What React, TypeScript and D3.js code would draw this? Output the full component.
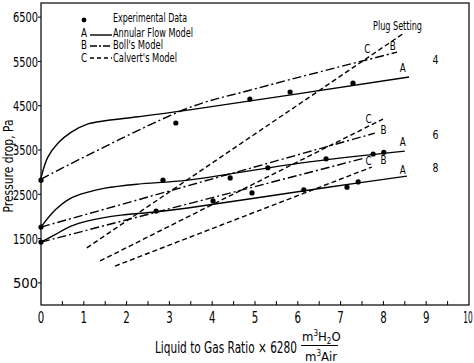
import React from 'react';
import * as d3 from 'd3';

// experimental points, per plug setting
const exp4X = [0, 3.15, 4.88, 5.82, 7.29];
const exp4P = [2820, 4110, 4650, 4810, 5010];
const exp6X = [0, 2.85, 4.42, 5.3, 6.66, 7.76, 8.01];
const exp6P = [1760, 2820, 2870, 3100, 3300, 3410, 3450];
const exp8X = [0, 2.69, 4.02, 4.93, 6.14, 7.15, 7.41];
const exp8P = [1420, 2120, 2350, 2530, 2600, 2660, 2780];

// A: annular flow model
const a4X = [0, 0.16, 0.4, 0.7, 1.1, 1.5, 2.27, 3.43, 8.6];
const a4P = [2870, 3340, 3660, 3900, 4090, 4160, 4250, 4400, 5150];
const a6X = [0, 0.33, 0.7, 1.1, 1.5, 2.27, 3.43, 6.05, 8.5];
const a6P = [1760, 2145, 2415, 2550, 2640, 2730, 2820, 3205, 3475];
const a8X = [0, 0.33, 0.7, 1.1, 1.87, 2.66, 3.43, 6.75, 8.55];
const a8P = [1420, 1590, 1780, 1900, 2030, 2100, 2190, 2665, 2910];

// B: Boll's model
const b4X = [0, 3.43, 4.88, 8.32];
const b4P = [2845, 4445, 4850, 5710];
const b6X = [0, 7.8];
const b6P = [1760, 3880];
const b8X = [0, 7.57];
const b8P = [1420, 3320];

// C: Calvert's model
const c4X = [1.07, 8.48];
const c4P = [1290, 6140];
const c6X = [1.38, 7.99];
const c6P = [995, 4200];
const c8X = [1.73, 7.73];
const c8P = [880, 3115];

const yTicks = [500, 1500, 2500, 3500, 4500, 5500, 6500];
const xTicks = [0, 1, 2, 3, 4, 5, 6, 7, 8, 9, 10];

// curve letter labels (x, p)
const curveLabels = ['C', 'B', 'A', 'C', 'B', 'A', 'C', 'B', 'A'];
const curveLabelX = [7.62, 8.22, 8.45, 7.65, 8.0, 8.45, 7.65, 8.0, 8.45];
const curveLabelP = [5700, 5750, 5260, 4120, 3870, 3600, 3160, 3190, 2950];
const plugLabels = ['4', '6', '8'];
const plugLabelP = [5450, 3760, 3000];

const font = '"DejaVu Sans Condensed", "Liberation Sans Narrow", sans-serif';
const DASHDOT = '9,3,2,3';
const DASHED = '5,3';

export default function App() {
  const x = d3.scaleLinear().domain([0, 10]).range([41, 469]);
  const y = d3.scaleLinear().domain([0, 6820]).range([305, 3]);

  const pts = (xs: number[], ps: number[]) => xs.map((v, i) => [v, ps[i]] as [number, number]);
  const smooth = d3.line<[number, number]>().x((d) => x(d[0])).y((d) => y(d[1])).curve(d3.curveCatmullRom.alpha(0.5));
  const straight = d3.line<[number, number]>().x((d) => x(d[0])).y((d) => y(d[1]));

  const models = [
    { d: smooth(pts(a4X, a4P)), dash: null },
    { d: smooth(pts(a6X, a6P)), dash: null },
    { d: smooth(pts(a8X, a8P)), dash: null },
    { d: smooth(pts(b4X, b4P)), dash: DASHDOT },
    { d: straight(pts(b6X, b6P)), dash: DASHDOT },
    { d: straight(pts(b8X, b8P)), dash: DASHDOT },
    { d: straight(pts(c4X, c4P)), dash: DASHED },
    { d: straight(pts(c6X, c6P)), dash: DASHED },
    { d: straight(pts(c8X, c8P)), dash: DASHED },
  ];

  const dots = [...pts(exp4X, exp4P), ...pts(exp6X, exp6P), ...pts(exp8X, exp8P)];
  const minorX = d3.range(0.5, 10, 0.5);
  const fit = { lengthAdjust: 'spacingAndGlyphs' } as any;

  return (
    <svg width={474} height={363} style={{ position: 'absolute', left: 0, top: 0, background: '#fff' }} fontFamily={font}>
      {/* frame */}
      <rect x={x(0)} y={y(6820)} width={x(10) - x(0)} height={y(0) - y(6820)} fill="none" stroke="#000" strokeWidth={1.2} />
      {minorX.map((t) => (
        <line key={t} x1={x(t)} x2={x(t)} y1={y(0)} y2={y(0) - 4} stroke="#000" strokeWidth={1} />
      ))}
      {yTicks.map((t) => (
        <g key={t}>
          <line x1={x(0) - 3} x2={x(0)} y1={y(t)} y2={y(t)} stroke="#000" />
          <text x={x(0) - 3} y={y(t)} dy="0.38em" textAnchor="end" fontSize={14} textLength={25} {...fit}>{t}</text>
        </g>
      ))}
      {xTicks.map((t) => (
        <text key={t} x={t === 10 ? x(t) - 1 : x(t)} y={323} textAnchor="middle" fontSize={15} textLength={t === 10 ? 9.5 : 6.5} {...fit}>{t}</text>
      ))}

      {models.map((m, i) => (
        <path key={i} d={m.d || ''} fill="none" stroke="#000" strokeWidth={1.4} strokeDasharray={m.dash || undefined} />
      ))}
      {dots.map((d, i) => (
        <circle key={i} cx={x(d[0])} cy={y(d[1])} r={2.6} fill="#000" />
      ))}

      {curveLabels.map((l, i) => (
        <text key={i} x={x(curveLabelX[i])} y={y(curveLabelP[i])} fontSize={12} textAnchor="middle" textLength={6} {...fit}>{l}</text>
      ))}
      {plugLabels.map((l, i) => (
        <text key={l} x={x(9.22)} y={y(plugLabelP[i])} fontSize={13} textAnchor="middle" textLength={6} {...fit}>{l}</text>
      ))}
      <text x={373} y={30} fontSize={12.5} textLength={49} {...fit}>Plug Setting</text>

      {/* legend */}
      <g fontSize={12.5}>
        <circle cx={84} cy={20} r={2.4} fill="#000" />
        <text x={113} y={22} textLength={74} {...fit}>Experimental Data</text>
        <text x={81} y={37} textLength={6} {...fit}>A</text>
        <line x1={90} x2={112} y1={35} y2={35} stroke="#000" strokeWidth={1.4} />
        <text x={113} y={37} textLength={80} {...fit}>Annular Flow Model</text>
        <text x={81} y={49} textLength={6} {...fit}>B</text>
        <line x1={90} x2={112} y1={46} y2={46} stroke="#000" strokeWidth={1.4} strokeDasharray="7,2,2,2" />
        <text x={113} y={49} textLength={50} {...fit}>Boll's Model</text>
        <text x={81} y={62} textLength={6} {...fit}>C</text>
        <line x1={90} x2={112} y1={58} y2={58} stroke="#000" strokeWidth={1.4} strokeDasharray="4,3" />
        <text x={113} y={62} textLength={64} {...fit}>Calvert's Model</text>
      </g>

      {/* axis titles */}
      <text transform="translate(13,166) rotate(-90)" textAnchor="middle" fontSize={14} textLength={93} {...fit}>Pressure drop, Pa</text>
      <text x={155} y={353} fontSize={15} textLength={142} {...fit}>Liquid to Gas Ratio × 6280</text>
      <text x={302} y={341} fontSize={13}>m<tspan fontSize={8} dy={-5}>3</tspan><tspan dy={5}>H</tspan><tspan fontSize={8} dy={3}>2</tspan><tspan dy={-3}>O</tspan></text>
      <line x1={301} x2={338} y1={345.5} y2={345.5} stroke="#000" strokeWidth={1} />
      <text x={305} y={361} fontSize={13}>m<tspan fontSize={8} dy={-5}>3</tspan><tspan dy={5}>Air</tspan></text>
    </svg>
  );
}
